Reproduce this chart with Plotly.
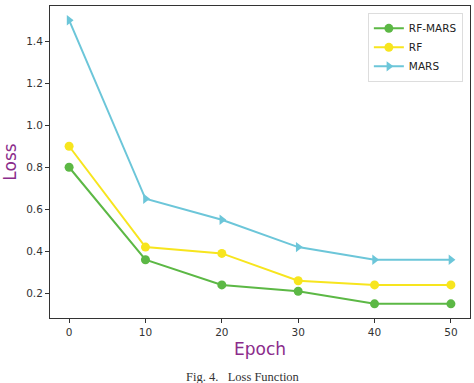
import plotly.graph_objects as go

epochs = [0, 10, 20, 30, 40, 50]
rf_mars = [0.80, 0.36, 0.24, 0.21, 0.15, 0.15]
rf = [0.90, 0.42, 0.39, 0.26, 0.24, 0.24]
mars = [1.50, 0.65, 0.55, 0.42, 0.36, 0.36]

x_ticks = [0, 10, 20, 30, 40, 50]
y_ticks = [0.2, 0.4, 0.6, 0.8, 1.0, 1.2, 1.4]
y_tick_labels = ["0.2", "0.4", "0.6", "0.8", "1.0", "1.2", "1.4"]

series = [
    ("RF-MARS", rf_mars, "#5cb845", "circle"),
    ("RF", rf, "#f7e51e", "circle"),
    ("MARS", mars, "#6cc6d9", "triangle-right"),
]

fig = go.Figure()
for name, vals, color, sym in series:
    fig.add_trace(go.Scatter(
        x=epochs, y=vals, name=name, mode="lines+markers",
        line=dict(color=color, width=2),
        marker=dict(color=color, size=9, symbol=sym),
    ))

axis_common = dict(
    showgrid=False, zeroline=False, showline=True, mirror=True,
    linecolor="#333333", linewidth=1, ticks="outside", ticklen=4,
    tickcolor="#333333", automargin=False,
    tickfont=dict(family="DejaVu Sans", size=10.5, color="#333333"),
)

fig.update_layout(
    width=474, height=383,
    margin=dict(l=50, r=4, t=6, b=65),
    paper_bgcolor="white", plot_bgcolor="white",
    showlegend=True,
    legend=dict(
        x=0.983, y=0.978, xanchor="right", yanchor="top",
        bgcolor="rgba(255,255,255,0.8)", bordercolor="#dddddd", borderwidth=1,
        font=dict(family="DejaVu Sans", size=10.5, color="#222222"),
        itemwidth=30, tracegroupgap=0,
    ),
    xaxis=dict(range=[-2.5, 52.5], tickvals=x_ticks, **axis_common,
               title=dict(text="Epoch", standoff=6,
                          font=dict(family="DejaVu Sans", size=17, color="#8b2c8b"))),
    yaxis=dict(range=[0.0825, 1.5675], tickvals=y_ticks, ticktext=y_tick_labels, **axis_common,
               title=dict(text="Loss", standoff=8,
                          font=dict(family="DejaVu Sans", size=17, color="#8b2c8b"))),
)

fig.add_annotation(
    text="Fig. 4.   Loss Function", xref="paper", yref="paper",
    x=0.46, y=-0.16, yanchor="top", xanchor="center", showarrow=False,
    font=dict(family="Liberation Serif", size=12.5, color="#333333"),
)

fig.write_html("out.html", config={"displayModeBar": False})

with open("out.html", "r", encoding="utf-8") as f:
    html = f.read()
html = html.replace("<body>", "<body style=\"margin:0;padding:0;overflow:hidden\">", 1)
with open("out.html", "w", encoding="utf-8") as f:
    f.write(html)
